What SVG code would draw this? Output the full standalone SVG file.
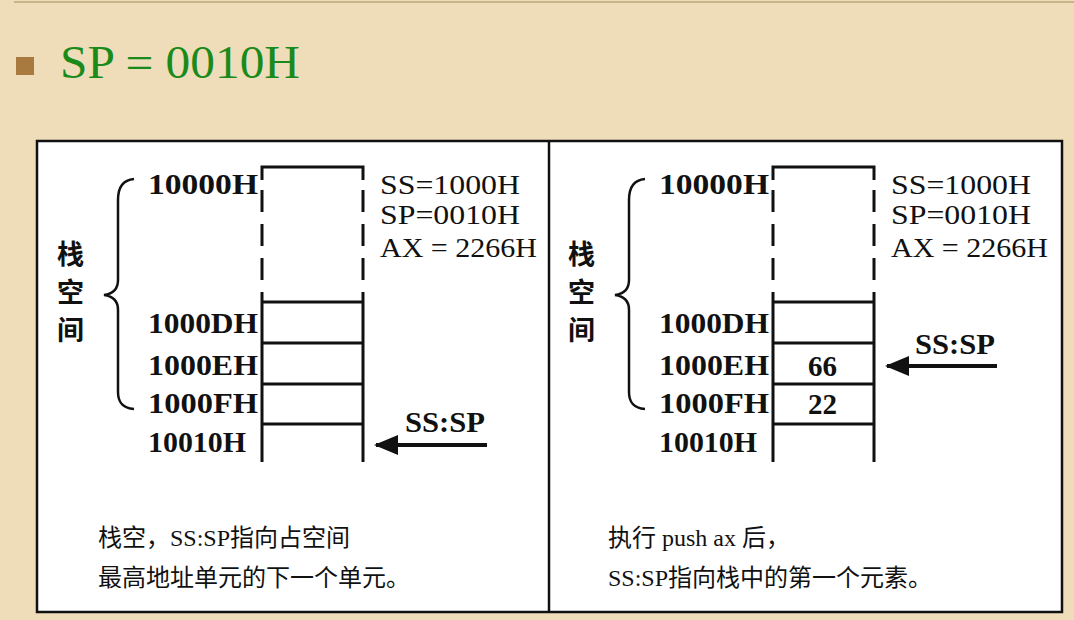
<svg xmlns="http://www.w3.org/2000/svg" width="1074" height="620" viewBox="0 0 1074 620">
<style>
.m{font-family:"Liberation Serif","Noto Sans CJK SC",serif;font-size:29px;font-weight:bold;fill:#111}
.r{font-family:"Liberation Serif",serif;font-size:27px;fill:#111}
.c{font-family:"Noto Sans CJK SC",sans-serif;font-size:27px;font-weight:bold;fill:#111}
.t{font-family:"Liberation Serif","Noto Sans CJK SC",serif;font-size:24px;fill:#111}
.ln{stroke:#111;stroke-width:3;fill:none}
.ds{stroke:#111;stroke-width:3;fill:none;stroke-dasharray:22,12}
.br{stroke:#111;stroke-width:2.5;fill:none}
</style>
<defs>
<marker id="ah" markerWidth="24" markerHeight="20" refX="22" refY="10" orient="auto" markerUnits="userSpaceOnUse"><path d="M0,0 L24,10 L0,20 Z" fill="#111"/></marker>
<g id="stack">
<path class="ln" d="M262,180 V167 H363 V180"/>
<path class="ds" d="M262,190 V290 M363,190 V290"/>
<path class="ln" d="M262,292 V462 M363,292 V462 M262,302 H363 M262,343 H363 M262,384 H363 M262,424 H363"/>
<path class="br" d="M134,179 C122,180 118,188 118,200 V280 C118,290 112,294 104,295 C112,296 118,300 118,310 V392 C118,402 122,408 134,409"/>
<text class="c" x="57" y="264">栈</text><text class="c" x="57" y="302">空</text><text class="c" x="57" y="340">间</text>
<text class="m" x="148" y="194" textLength="110" lengthAdjust="spacingAndGlyphs">10000H</text>
<text class="m" x="148" y="333" textLength="110" lengthAdjust="spacingAndGlyphs">1000DH</text>
<text class="m" x="148" y="375" textLength="110" lengthAdjust="spacingAndGlyphs">1000EH</text>
<text class="m" x="148" y="413" textLength="110" lengthAdjust="spacingAndGlyphs">1000FH</text>
<text class="m" x="148" y="452" textLength="98" lengthAdjust="spacingAndGlyphs">10010H</text>
<text class="r" x="380" y="194" textLength="140" lengthAdjust="spacingAndGlyphs">SS=1000H</text>
<text class="r" x="380" y="224" textLength="140" lengthAdjust="spacingAndGlyphs">SP=0010H</text>
<text class="r" x="380" y="257" textLength="157" lengthAdjust="spacingAndGlyphs">AX = 2266H</text>
</g>
</defs>
<rect width="1074" height="620" fill="#EEDDB8"/>
<line x1="14" y1="2" x2="1074" y2="2" stroke="#c8b48a" stroke-width="2"/>
<rect x="16" y="57" width="18" height="18" fill="#a87a40"/>
<text x="60" y="78" font-family="Liberation Serif,serif" font-size="46" fill="#1a8a1a" textLength="240" lengthAdjust="spacingAndGlyphs">SP = 0010H</text>
<rect x="37" y="141" width="1025" height="471" fill="#fff" stroke="#111" stroke-width="2.5"/>
<line x1="549" y1="141" x2="549" y2="612" stroke="#111" stroke-width="2.5"/>
<g id="left"><use href="#stack"/></g>
<g id="right"><use href="#stack" x="511"/>
<text class="m" x="808" y="376">66</text><text class="m" x="808" y="414">22</text></g>
<g id="connectors">
<line x1="487" y1="445" x2="376" y2="445" stroke="#111" stroke-width="4" marker-end="url(#ah)"/>
<line x1="997" y1="366" x2="887" y2="366" stroke="#111" stroke-width="4" marker-end="url(#ah)"/>
</g>
<text class="m" x="405" y="432" textLength="80" lengthAdjust="spacingAndGlyphs" font-weight="normal">SS:SP</text>
<text class="m" x="915" y="354" textLength="80" lengthAdjust="spacingAndGlyphs" font-weight="normal">SS:SP</text>
<text class="t" x="98" y="546">栈空，SS:SP指向占空间</text>
<text class="t" x="98" y="586">最高地址单元的下一个单元。</text>
<text class="t" x="608" y="546">执行 push ax 后，</text>
<text class="t" x="608" y="586">SS:SP指向栈中的第一个元素。</text>
</svg>
